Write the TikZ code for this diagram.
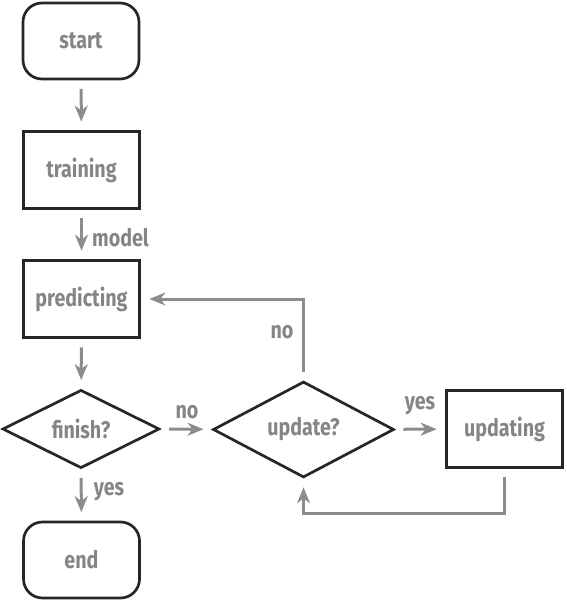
\documentclass[tikz,border=0pt]{standalone}
\usepackage{fontspec}
\setmainfont{Fira Sans}[FakeStretch=0.82]
\usetikzlibrary{shapes.geometric,arrows.meta}
\definecolor{txtgray}{HTML}{858585}
\definecolor{linegray}{HTML}{8C8C8C}
\definecolor{border}{HTML}{262626}
\tikzset{
  base/.style={draw=border, line width=2.7pt, text=txtgray, inner sep=0pt,
    font=\fontsize{24}{28}\selectfont\bfseries},
  termbox/.style={base, rectangle, rounded corners=19pt, minimum width=116pt, minimum height=76pt},
  procbox/.style={base, rectangle, minimum width=116pt, minimum height=77pt},
  decbox/.style={base, diamond},
  arr/.style={draw=linegray, line width=3pt, -{Stealth[length=16pt,width=13pt,inset=5pt]},
    shorten <=8.5pt, shorten >=8.5pt},
  lbl/.style={text=txtgray, inner sep=0pt, font=\fontsize{24}{28}\selectfont\bfseries}
}
\begin{document}
\begin{tikzpicture}[x=1pt,y=-1pt]
\useasboundingbox (0,0) rectangle (566,601);
\node[termbox] (start) at (81,41) {start};
\node[procbox] (training) at (81.5,170) {training};
\node[procbox] (predicting) at (81.5,299) {predicting};
\node[decbox, minimum width=157pt, minimum height=78pt] (finish) at (81,429) {finish?};
\node[decbox, minimum width=181pt, minimum height=88pt] (update) at (303.5,429.5) {update?};
\node[procbox] (updating) at (504.5,429) {updating};
\node[termbox] (end) at (81.5,560) {end};
\coordinate (lp) at (0,513);

\draw[arr] (start) -- (training);
\draw[arr] (training) -- (predicting);
\draw[arr] (predicting) -- (finish);
\draw[arr] (finish) -- (update);
\draw[arr] (update) -- (updating);
\draw[arr] (finish) -- (end);
\draw[arr] (updating.south) -- (updating.south |- lp) -| (update.south);
\draw[arr] (update.north) |- (predicting.east);

\node[lbl, anchor=west] (lmodel) at (92,238) {model};
\node[lbl] (lno1) at (187,412) {no};
\node[lbl] (lyes1) at (420,406) {yes};
\node[lbl] (lyes2) at (109,492) {yes};
\node[lbl] (lno2) at (282,332) {no};
\end{tikzpicture}
\end{document}
